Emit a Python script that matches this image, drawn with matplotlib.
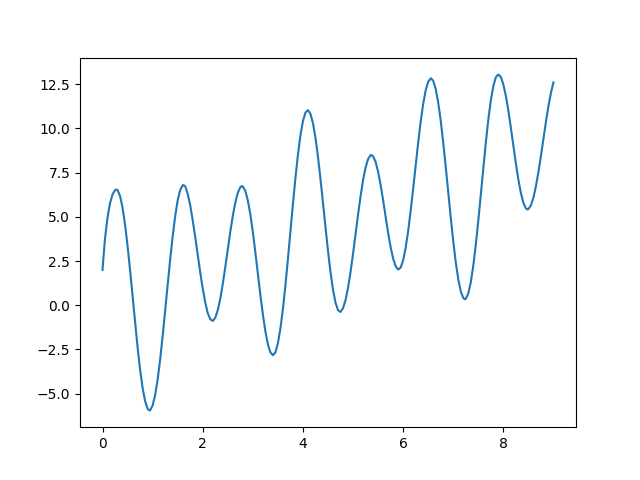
import matplotlib
matplotlib.use("Agg")
import matplotlib.pyplot as plt

x_values = [
    0.00, 0.025, 0.05, 0.10, 0.15, 0.20, 0.25, 0.277, 0.30, 0.35, 0.40, 0.45,
    0.50, 0.55, 0.60, 0.65, 0.70, 0.75, 0.80, 0.85, 0.90, 0.936, 0.95,
    1.00, 1.05, 1.10, 1.15, 1.20, 1.25, 1.30, 1.35, 1.40, 1.45,
    1.50, 1.55, 1.60, 1.614, 1.65, 1.70, 1.75, 1.80, 1.85, 1.90, 1.95,
    2.00, 2.05, 2.10, 2.15, 2.20, 2.25, 2.30, 2.35, 2.40, 2.45,
    2.50, 2.55, 2.60, 2.65, 2.70, 2.75, 2.784, 2.80, 2.85, 2.90, 2.95,
    3.00, 3.05, 3.10, 3.15, 3.20, 3.25, 3.30, 3.35, 3.40, 3.45,
    3.50, 3.55, 3.60, 3.65, 3.70, 3.75, 3.80, 3.85, 3.90, 3.95,
    4.00, 4.05, 4.10, 4.15, 4.20, 4.25, 4.30, 4.35, 4.40, 4.45,
    4.50, 4.55, 4.60, 4.65, 4.70, 4.75, 4.80, 4.85, 4.90, 4.95,
    5.00, 5.05, 5.10, 5.15, 5.20, 5.25, 5.30, 5.35, 5.364, 5.40, 5.45,
    5.50, 5.55, 5.60, 5.65, 5.70, 5.75, 5.80, 5.85, 5.90, 5.95,
    6.00, 6.05, 6.10, 6.15, 6.20, 6.25, 6.30, 6.35, 6.40, 6.45,
    6.50, 6.554, 6.60, 6.65, 6.70, 6.75, 6.80, 6.85, 6.90, 6.95,
    7.00, 7.05, 7.10, 7.15, 7.20, 7.232, 7.25, 7.30, 7.35, 7.40, 7.45,
    7.50, 7.55, 7.60, 7.65, 7.70, 7.75, 7.80, 7.85, 7.90, 7.95,
    8.00, 8.05, 8.10, 8.15, 8.20, 8.25, 8.30, 8.35, 8.40, 8.45, 8.482,
    8.50, 8.55, 8.60, 8.65, 8.70, 8.75, 8.80, 8.85, 8.90, 8.95, 9.00,
]
y_values = [
    2.00, 2.95, 3.80, 4.98, 5.78, 6.28, 6.51, 6.55, 6.51, 6.18, 5.51, 4.54,
    3.34, 1.96, 0.49, -0.99, -2.40, -3.65, -4.69, -5.43, -5.86, -5.95, -5.94,
    -5.67, -5.08, -4.20, -3.06, -1.74, -0.31, 1.16, 2.60, 3.91, 5.04,
    5.94, 6.52, 6.79, 6.80, 6.73, 6.30, 5.65, 4.80, 3.85, 2.85, 1.85,
    0.95, 0.15, -0.45, -0.79, -0.89, -0.71, -0.28, 0.37, 1.21, 2.16,
    3.17, 4.16, 5.06, 5.81, 6.36, 6.68, 6.74, 6.72, 6.47, 5.93, 5.14,
    4.14, 2.99, 1.78, 0.59, -0.52, -1.47, -2.21, -2.66, -2.83, -2.67,
    -2.15, -1.32, -0.21, 1.12, 2.61, 4.17, 5.73, 7.20, 8.52, 9.62,
    10.42, 10.90, 11.04, 10.83, 10.30, 9.47, 8.40, 7.14, 5.79, 4.40,
    3.07, 1.87, 0.87, 0.15, -0.28, -0.38, -0.17, 0.29, 1.00, 1.89,
    2.92, 4.03, 5.13, 6.17, 7.08, 7.79, 8.27, 8.49, 8.50, 8.43, 8.11,
    7.55, 6.81, 5.94, 5.01, 4.10, 3.29, 2.64, 2.21, 2.02, 2.13,
    2.54, 3.25, 4.20, 5.34, 6.60, 7.92, 9.20, 10.38, 11.39, 12.17,
    12.65, 12.84, 12.70, 12.23, 11.46, 10.44, 9.20, 7.83, 6.39, 4.96,
    3.62, 2.43, 1.47, 0.78, 0.41, 0.34, 0.36, 0.67, 1.30, 2.24, 3.42,
    4.79, 6.26, 7.76, 9.20, 10.51, 11.59, 12.40, 12.90, 13.06, 12.91,
    12.49, 11.84, 11.01, 10.04, 9.02, 8.02, 7.10, 6.35, 5.79, 5.48, 5.42,
    5.44, 5.65, 6.09, 6.73, 7.54, 8.45, 9.42, 10.38, 11.27, 12.02, 12.61,
]

fig, ax = plt.subplots(figsize=(6.4, 4.8), dpi=100)
ax.plot(x_values, y_values)
fig.savefig("out.png")
